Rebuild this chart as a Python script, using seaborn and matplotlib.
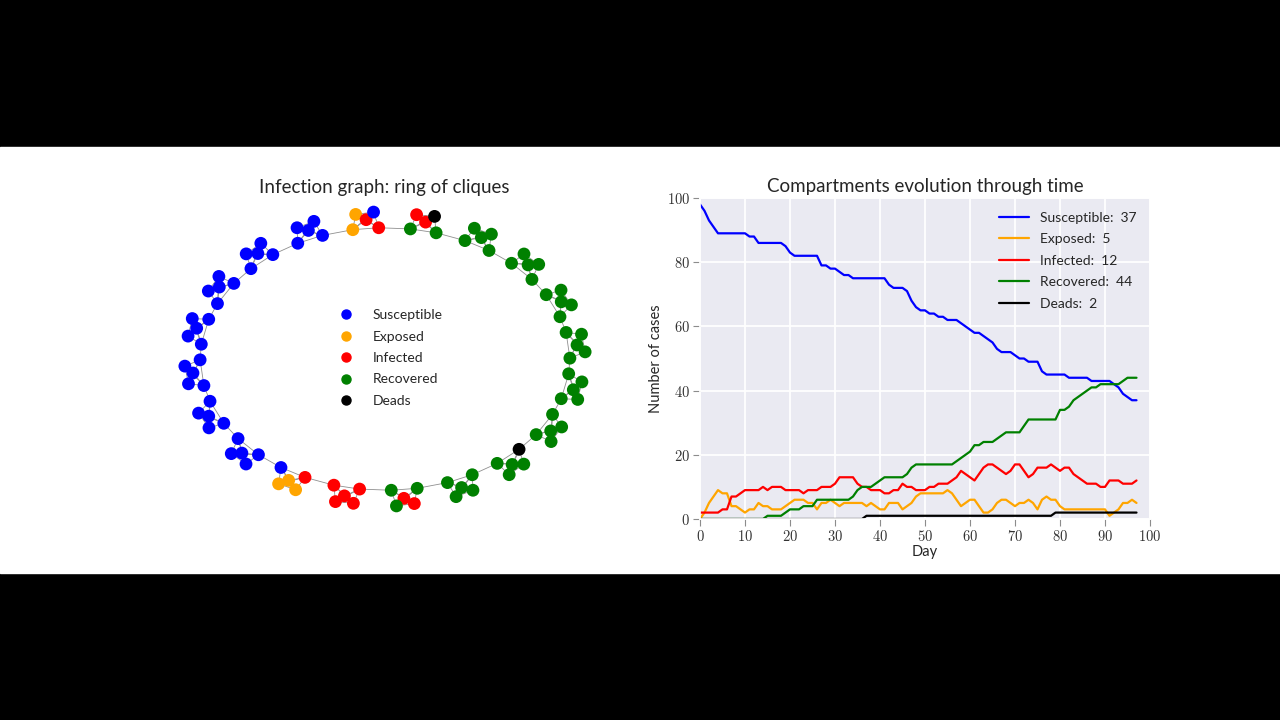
import numpy as np
import pandas as pd
import matplotlib
matplotlib.use("Agg")
import matplotlib.pyplot as plt
from matplotlib.collections import LineCollection
from matplotlib.lines import Line2D
from matplotlib.patches import Rectangle
from matplotlib.ticker import FuncFormatter, MultipleLocator
import seaborn as sns

# compartment counts per day
susceptible = [98, 96, 93, 91, 89, 89, 89, 89, 89, 89, 89, 88, 88, 86, 86, 86, 86, 86, 86, 85,
               83, 82, 82, 82, 82, 82, 82, 79, 79, 78, 78, 77, 76, 76, 75, 75, 75, 75, 75, 75,
               75, 75, 73, 72, 72, 72, 71, 68, 66, 65, 65, 64, 64, 63, 63, 62, 62, 62, 61, 60,
               59, 58, 58, 57, 56, 55, 53, 52, 52, 52, 51, 50, 50, 49, 49, 49, 46, 45, 45, 45,
               45, 45, 44, 44, 44, 44, 44, 43, 43, 43, 43, 43, 42, 41, 39, 38, 37, 37]
exposed = [0, 2, 5, 7, 9, 8, 8, 4, 4, 3, 2, 3, 3, 5, 4, 4, 3, 3, 3, 4,
           5, 6, 6, 6, 5, 5, 3, 5, 5, 6, 5, 4, 5, 5, 5, 5, 5, 4, 5, 4,
           3, 3, 5, 5, 5, 3, 4, 5, 7, 8, 8, 8, 8, 8, 8, 9, 8, 6, 4, 5,
           6, 6, 4, 2, 2, 3, 5, 6, 6, 5, 4, 5, 5, 6, 5, 3, 6, 7, 6, 6,
           4, 3, 3, 3, 3, 3, 3, 3, 3, 3, 3, 1, 2, 3, 5, 5, 6, 5]
infected = [2, 2, 2, 2, 2, 3, 3, 7, 7, 8, 9, 9, 9, 9, 10, 9, 10, 10, 10, 9,
            9, 9, 9, 8, 9, 9, 9, 10, 10, 10, 11, 13, 13, 13, 13, 11, 10, 10, 9, 9,
            9, 8, 8, 9, 9, 11, 10, 10, 9, 9, 9, 10, 10, 11, 11, 11, 12, 13, 15, 14,
            13, 12, 14, 16, 17, 17, 16, 15, 14, 15, 17, 17, 15, 13, 14, 16, 16, 16, 17, 16,
            15, 16, 16, 14, 13, 12, 11, 11, 11, 10, 10, 12, 12, 12, 11, 11, 11, 12]
recovered = [0, 0, 0, 0, 0, 0, 0, 0, 0, 0, 0, 0, 0, 0, 0, 1, 1, 1, 1, 2,
             3, 3, 3, 4, 4, 4, 6, 6, 6, 6, 6, 6, 6, 6, 7, 9, 10, 10, 10, 11,
             12, 13, 13, 13, 13, 13, 14, 16, 17, 17, 17, 17, 17, 17, 17, 17, 17, 18, 19, 20,
             21, 23, 23, 24, 24, 24, 25, 26, 27, 27, 27, 27, 29, 31, 31, 31, 31, 31, 31, 31,
             34, 34, 35, 37, 38, 39, 40, 41, 41, 42, 42, 42, 42, 42, 43, 44, 44, 44]
deads = [0] * 37 + [1] * 42 + [2] * 19
days = list(range(len(susceptible)))

compartments = ["Susceptible", "Exposed", "Infected", "Recovered", "Deads"]
colors = ["blue", "orange", "red", "green", "black"]

# state of every node of the ring of cliques, clique by clique (clockwise from the top)
# order inside a clique: previous link, next link, then the three outer nodes
clique_states = ["EIEIS", "RRIID", "RRRRR", "RRRRR", "RRRRR", "RRRRR", "RRRRR",
                 "RRRRR", "DRRRR", "RRRRR", "RRIIR", "IIIII", "ISEEE", "SSSSS",
                 "SSSSS", "SSSSS", "SSSSS", "SSSSS", "SSSSS", "SSSSS"]
letter = dict(zip("SEIRD", compartments))

sns.set_theme(style="darkgrid", rc={"grid.linewidth": 1.3})
plt.rcParams["font.family"] = ["Lato", "DejaVu Sans"]
plt.rcParams["mathtext.fontset"] = "cm"

fig = plt.figure(figsize=(12.8, 7.2), dpi=100)
fig.patch.set_facecolor("black")
fig.patches.append(Rectangle((0, (720 - 573) / 720), 1, 426 / 720,
                             transform=fig.transFigure, color="white", zorder=-5))

# ---- left: the infection graph (pixel units) ----
ax0 = fig.add_axes([0, 0, 1, 1])

n = len(clique_states)
cx, cy, rx, ry = 385, 359, 184, 131
offsets = [(-13, 0), (13, 0), (-9, 15), (1, 9), (9, 16)]
pos, states = [], []
for k, st in enumerate(clique_states):
    th = np.deg2rad(96 - 360 / n * k)
    c = np.array([cx + rx * np.cos(th), cy - ry * np.sin(th)])
    t = np.array([rx * np.sin(th), ry * np.cos(th)])
    t /= np.linalg.norm(t)
    nv = np.array([np.cos(th) / rx, -np.sin(th) / ry])
    nv /= np.linalg.norm(nv)
    for (a, b), s in zip(offsets, st):
        pos.append(c + a * t + b * nv)
        states.append(letter[s])
pos = np.array(pos)

size = len(offsets)
segs = []
for k in range(n):
    for i in range(size):
        for j in range(i + 1, size):
            segs.append([pos[k * size + i], pos[k * size + j]])
    segs.append([pos[k * size + 1], pos[((k + 1) % n) * size]])
ax0.add_collection(LineCollection(segs, colors="#8f8f8f", linewidths=0.6, zorder=1))

nodes = pd.DataFrame({"x": pos[:, 0], "y": pos[:, 1], "state": states})
sns.scatterplot(data=nodes, x="x", y="y", hue="state", hue_order=compartments,
                palette=colors, s=85, linewidth=0, legend=False, ax=ax0, zorder=2)
ax0.set_xlim(0, 1280)
ax0.set_ylim(720, 0)
ax0.axis("off")

ax0.text(384, 187, "Infection graph: ring of cliques", ha="center", va="center", fontsize=13.5)
handles = [Line2D([], [], marker="o", ls="", color=c, markersize=6.5) for c in colors]
ax0.legend(handles, compartments, loc="center left", bbox_to_anchor=(320, 358),
           bbox_transform=ax0.transData, frameon=False, fontsize=10,
           handletextpad=0.9, labelspacing=0.68)

# ---- right: compartments through time ----
ax1 = fig.add_axes([700 / 1280, 1 - 519 / 720, 450 / 1280, 321 / 720])
curves = pd.DataFrame({"Day": days, "Susceptible": susceptible, "Exposed": exposed,
                       "Infected": infected, "Recovered": recovered, "Deads": deads})
long = curves.melt(id_vars="Day", var_name="compartment", value_name="cases")
labels = {c: f"{c}:  {curves[c].iloc[-1]}" for c in compartments}
long["label"] = long["compartment"].map(labels)
sns.lineplot(data=long, x="Day", y="cases", hue="label",
             hue_order=[labels[c] for c in compartments], palette=colors,
             linewidth=1.6, ax=ax1)
ax1.set_xlim(0, 100)
ax1.set_ylim(0, 100)
ax1.xaxis.set_major_locator(MultipleLocator(10))
ax1.yaxis.set_major_locator(MultipleLocator(20))
fmt = FuncFormatter(lambda v, p: f"${v:g}$")
ax1.xaxis.set_major_formatter(fmt)
ax1.yaxis.set_major_formatter(fmt)
ax1.tick_params(axis="both", which="major", bottom=True, left=True, length=5, width=0.8,
                color="#8c8c8c", labelcolor="#333333", labelsize=10.5, pad=2)
ax1.set_xlabel("Day", fontsize=10.5, labelpad=1)
ax1.set_ylabel("Number of cases", fontsize=10.5, labelpad=3)
ax1.set_title("Compartments evolution through time", fontsize=13.5, pad=4)
ax1.legend(loc="upper right", frameon=False, fontsize=10, handlelength=2.1,
           handletextpad=0.8, labelspacing=0.68, borderaxespad=0.6)

fig.savefig("out.png", dpi=100, facecolor="black")
